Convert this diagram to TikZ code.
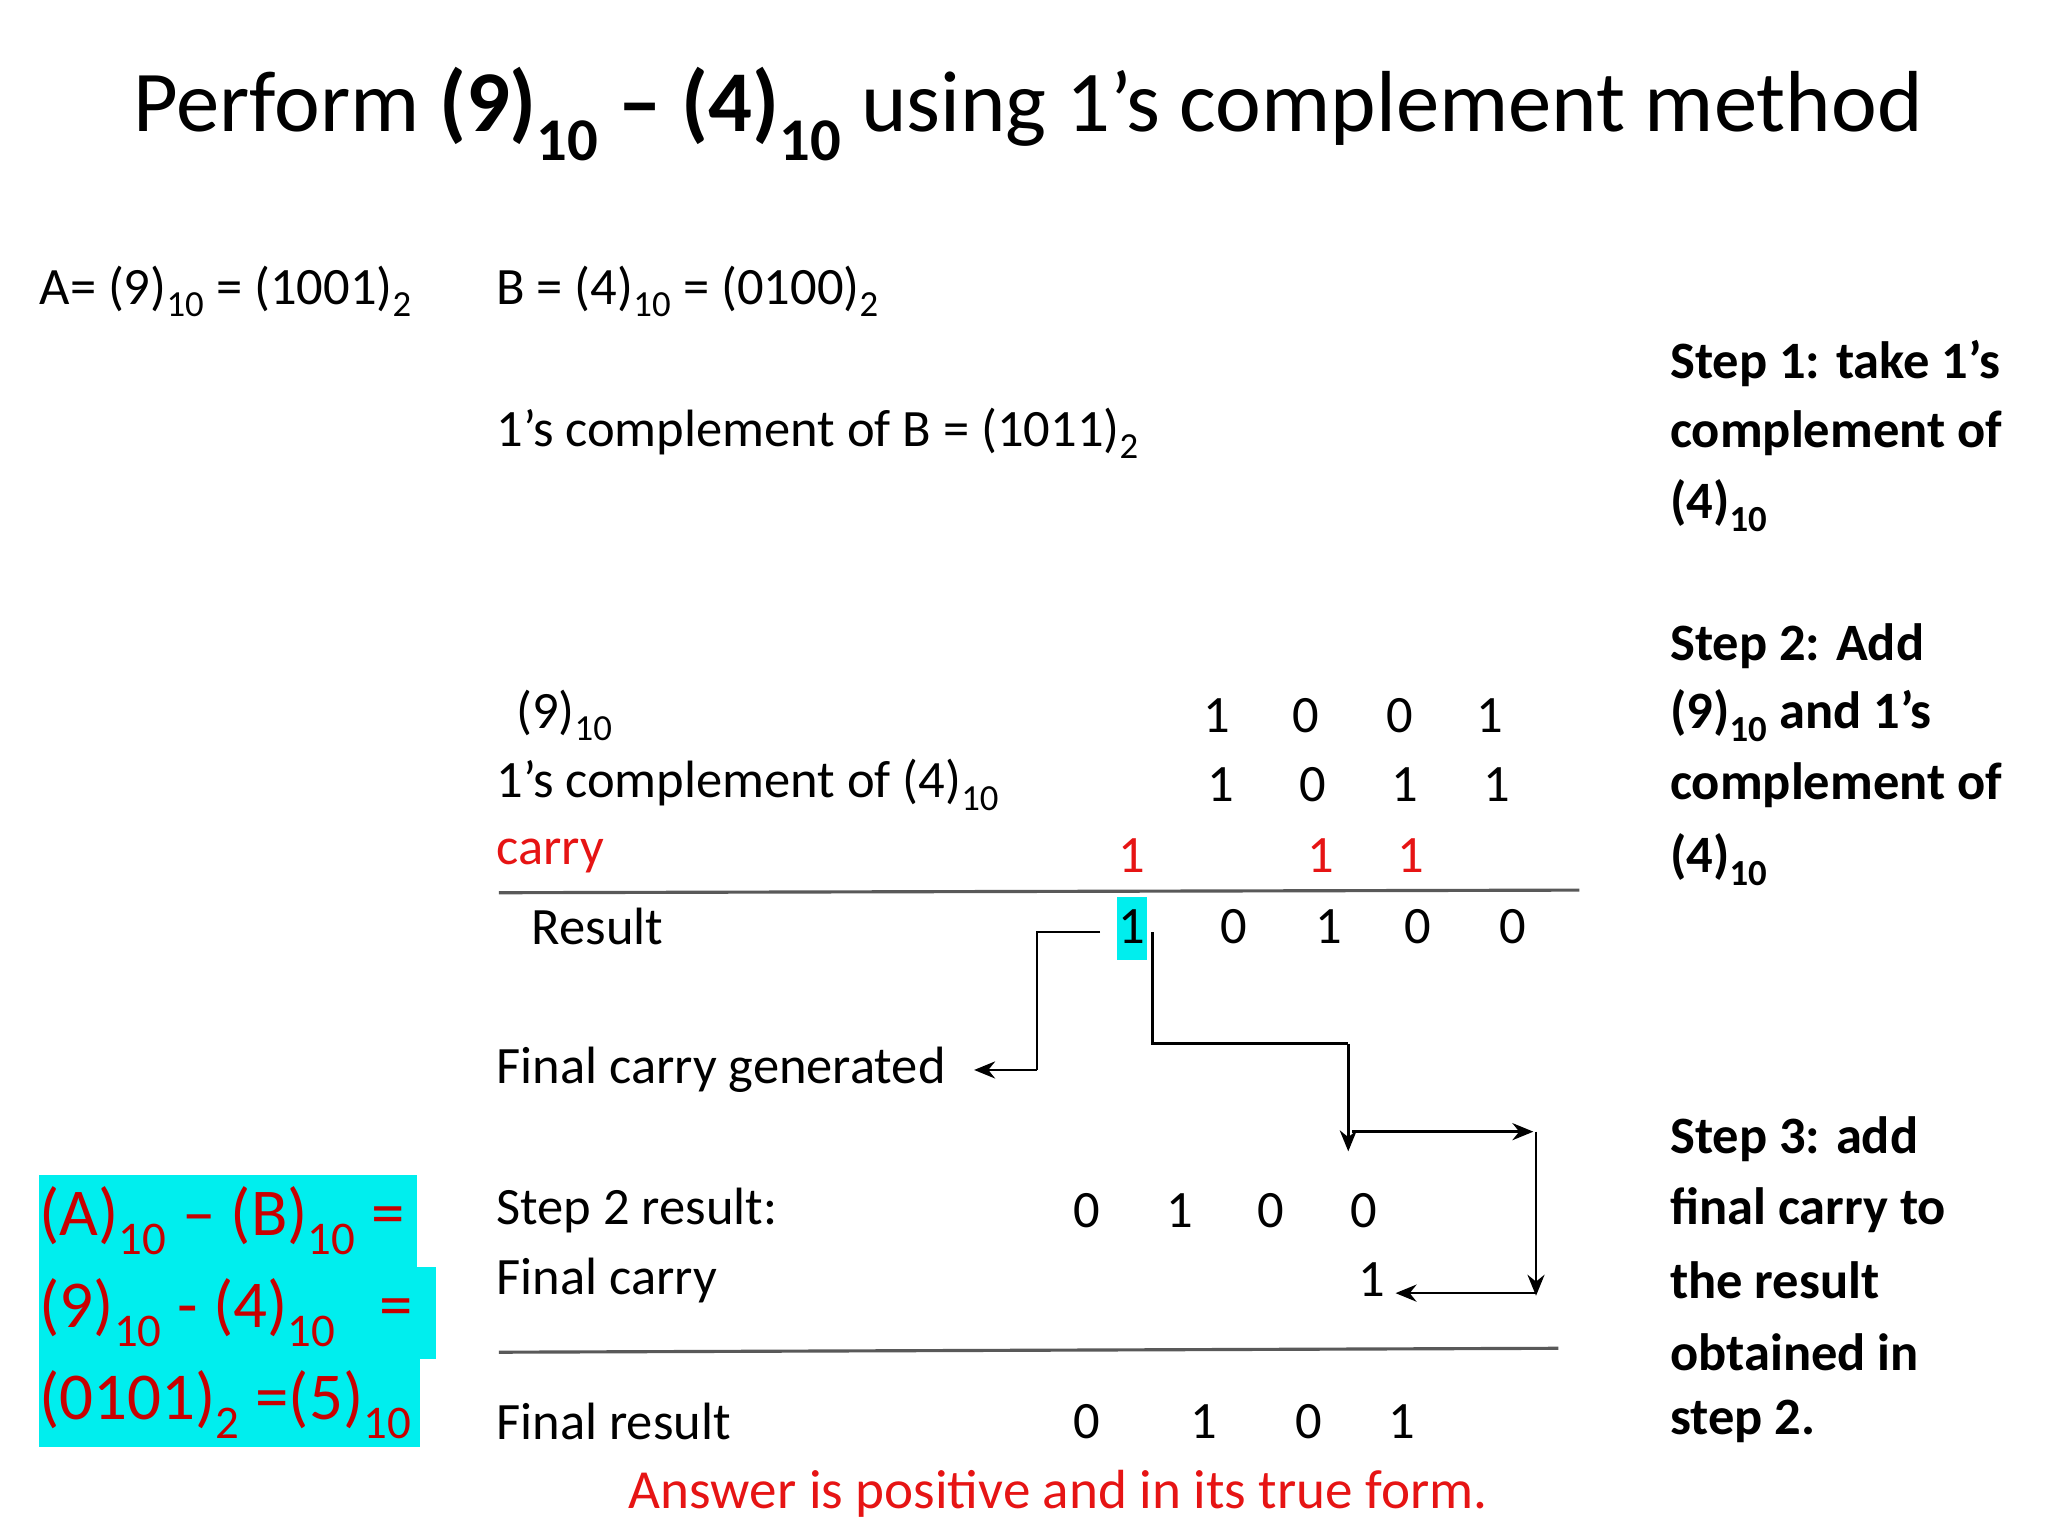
\documentclass[tikz,border=0pt]{standalone}
\usepackage{fontspec}
\setmainfont{Carlito}
\usetikzlibrary{arrows.meta}
\newcommand\sbx[1]{\textsubscript{#1}}
\definecolor{cy}{RGB}{0,238,238}
\definecolor{rd}{RGB}{230,20,20}
\definecolor{dr}{RGB}{200,0,0}
\begin{document}
\begin{tikzpicture}[x=1pt,y=-1pt,
 tx/.style={anchor=west,inner sep=0pt,font=\fontsize{40}{48}\selectfont},
 st/.style={anchor=west,inner sep=0pt,font=\fontsize{40}{48}\selectfont\bfseries},
 dg/.style={inner sep=0pt,font=\fontsize{40}{48}\selectfont},
 ln/.style={line width=2pt},
 ar/.style={line width=2pt,-{Stealth[length=16pt,width=13pt]}}]
\useasboundingbox (0,0) rectangle (1560,1170);
\node[inner sep=0pt,font=\fontsize{66}{76}\selectfont] (title) at (783,87) {Perform \textbf{(9)\sbx{10} – (4)\sbx{10}} using 1’s complement method};
\node[tx] (a) at (30,222) {A= (9)\sbx{10} = (1001)\sbx{2}};
\node[tx] (b) at (378,222) {B = (4)\sbx{10} = (0100)\sbx{2}};
\node[tx] (c) at (378,330) {1’s complement of B = (1011)\sbx{2}};
\node[st] (s1a) at (1272,277) {Step 1: take 1’s};
\node[st] (s1b) at (1272,330) {complement of};
\node[st] (s1c) at (1272,385) {(4)\sbx{10}};
\node[st] (s2a) at (1272,492) {Step 2: Add};
\node[st] (s2b) at (1272,545) {(9)\sbx{10} and 1’s};
\node[st] (s2c) at (1272,598) {complement of};
\node[st] (s2d) at (1272,655) {(4)\sbx{10}};
\node[st] (s3a) at (1272,868) {Step 3: add};
\node[st] (s3b) at (1272,922) {final carry to};
\node[st] (s3c) at (1272,975) {the result};
\node[st] (s3d) at (1272,1030) {obtained in};
\node[st] (s3e) at (1272,1083) {step 2.};
\node[tx] (n9) at (393,545) {(9)\sbx{10}};
\foreach \x/\d [count=\i] in {927/1,995/0,1066/0,1135/1} \node[dg] (p\i) at (\x,545) {\d};
\node[tx] (n4) at (378,598) {1’s complement of (4)\sbx{10}};
\foreach \x/\d [count=\i] in {930/1,1000/0,1070/1,1140/1} \node[dg] (q\i) at (\x,598) {\d};
\node[tx,text=rd] (cr) at (378,652) {carry};
\foreach \x [count=\i] in {862,1006,1075} \node[dg,text=rd] (c\i) at (\x,652) {1};
\draw[line width=2.4pt,gray!70!black] (380,680) -- (1203,678);
\node[tx] (res) at (405,706) {Result};
\fill[cy] (851,683) rectangle (874,731);
\node[dg] (r0) at (862,706) {1};
\foreach \x/\d [count=\i] in {940/0,1012/1,1080/0,1152/0} \node[dg] (r\i) at (\x,706) {\d};
\node[tx] (fcg) at (378,815) {Final carry generated};
\draw[ln] (838,710) -- (790,710) -- (790,815);
\draw[ar] (790,815) -- (742,815);
\draw[ln] (878,710) -- (878,795) -- (1027,795);
\draw[ar] (1027,795) -- (1027,877);
\draw[ar] (1030,862) -- (1168,862);
\draw[ar] (1170,862) -- (1170,987);
\node[dg] (fc1) at (1045,975) {1};
\draw[ar] (1170,985) -- (1063,985);
\node[tx] (s2r) at (378,922) {Step 2 result:};
\foreach \x/\d [count=\i] in {828/0,899/1,968/0,1039/0} \node[dg] (t\i) at (\x,922) {\d};
\node[tx] (fc) at (378,975) {Final carry};
\draw[line width=2.4pt,gray!70!black] (380,1030) -- (1187,1027);
\node[tx] (fr) at (378,1083) {Final result};
\foreach \x/\d [count=\i] in {828/0,917/1,997/0,1068/1} \node[dg] (u\i) at (\x,1083) {\d};
\node[dg,text=rd,font=\fontsize{42}{50}\selectfont] (ans) at (806,1138) {Answer is positive and in its true form.};
\fill[cy] (30,895) rectangle (318,965);
\fill[cy] (30,965) rectangle (332,1035);
\fill[cy] (30,1035) rectangle (320,1102);
\node[anchor=west,inner sep=0pt,text=dr,font=\fontsize{51}{58}\selectfont] (l1) at (30,930) {(A)\sbx{10} – (B)\sbx{10} =};
\node[anchor=west,inner sep=0pt,text=dr,font=\fontsize{51}{58}\selectfont] (l2) at (30,1000) {(9)\sbx{10} - (4)\sbx{10} \hspace{22pt}=};
\node[anchor=west,inner sep=0pt,text=dr,font=\fontsize{51}{58}\selectfont] (l3) at (30,1070) {(0101)\sbx{2} =(5)\sbx{10}};
\end{tikzpicture}
\end{document}
